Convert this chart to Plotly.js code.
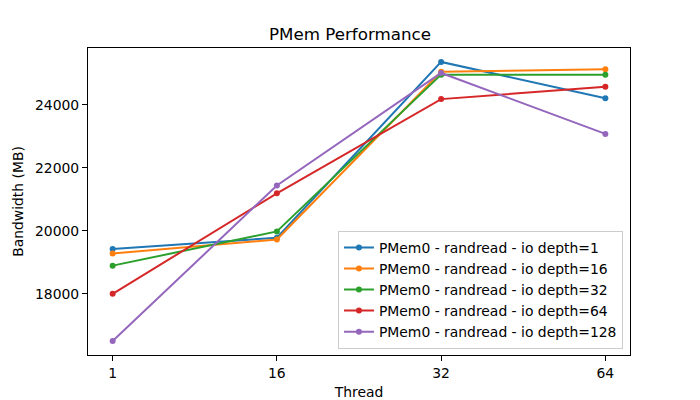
<!DOCTYPE html>
<html>
<head>
<meta charset="utf-8">
<script src="https://cdn.plot.ly/plotly-3.0.1.min.js"></script>
<style>html,body{margin:0;padding:0;background:#fff;}#chart{width:700px;height:400px;}</style>
</head>
<body>
<div id="chart"></div>
<script>
const threads = ['1', '16', '32', '64'];
const depth1 = [19420, 19780, 25360, 24210];
const depth16 = [19280, 19725, 25050, 25130];
const depth32 = [18895, 19980, 24957, 24950];
const depth64 = [18000, 21190, 24180, 24570];
const depth128 = [16500, 21440, 25010, 23075];
const seriesNames = [
  'PMem0 - randread - io depth=1',
  'PMem0 - randread - io depth=16',
  'PMem0 - randread - io depth=32',
  'PMem0 - randread - io depth=64',
  'PMem0 - randread - io depth=128'
];
const colors = ['#1f77b4', '#ff7f0e', '#2ca02c', '#d62728', '#9467bd'];
const allSeries = [depth1, depth16, depth32, depth64, depth128];

const traces = allSeries.map((ys, i) => ({
  x: threads,
  y: ys,
  name: seriesNames[i],
  type: 'scatter',
  mode: 'lines+markers',
  line: {color: colors[i], width: 2},
  marker: {color: colors[i], size: 6}
}));

const font = {family: 'DejaVu Sans, sans-serif', color: '#000', size: 13.9};
const layout = {
  width: 700, height: 400,
  paper_bgcolor: '#fff', plot_bgcolor: '#fff',
  margin: {l: 88, r: 70, t: 48, b: 45},
  font: font,
  showlegend: true,
  title: {text: 'PMem Performance', font: {family: 'DejaVu Sans, sans-serif', size: 16.7, color: '#000'}, x: 0.5, xanchor: 'center', y: 1 - 34/400, yanchor: 'middle'},
  xaxis: {
    type: 'category',
    range: [-0.15, 3.15],
    showgrid: false, zeroline: false,
    showline: true, mirror: true, linecolor: '#000', linewidth: 1,
    ticks: 'outside', ticklen: 5, tickcolor: '#000',
    tickfont: font,
    title: {text: 'Thread', font: font, standoff: 8}
  },
  yaxis: {
    range: [16059, 25802],
    tickvals: [18000, 20000, 22000, 24000],
    ticktext: ['18000', '20000', '22000', '24000'],
    showgrid: false, zeroline: false,
    showline: true, mirror: true, linecolor: '#000', linewidth: 1,
    ticks: 'outside', ticklen: 5, tickcolor: '#000',
    tickfont: font,
    title: {text: 'Bandwidth (MB)', font: font, standoff: 8}
  },
  legend: {
    x: 0.987, y: 0.02, xanchor: 'right', yanchor: 'bottom',
    bgcolor: 'rgba(255,255,255,0.8)', bordercolor: '#ccc', borderwidth: 1,
    font: font,
    tracegroupgap: 0
  }
};
Plotly.newPlot('chart', traces, layout, {displayModeBar: false, staticPlot: true});
</script>
</body>
</html>
